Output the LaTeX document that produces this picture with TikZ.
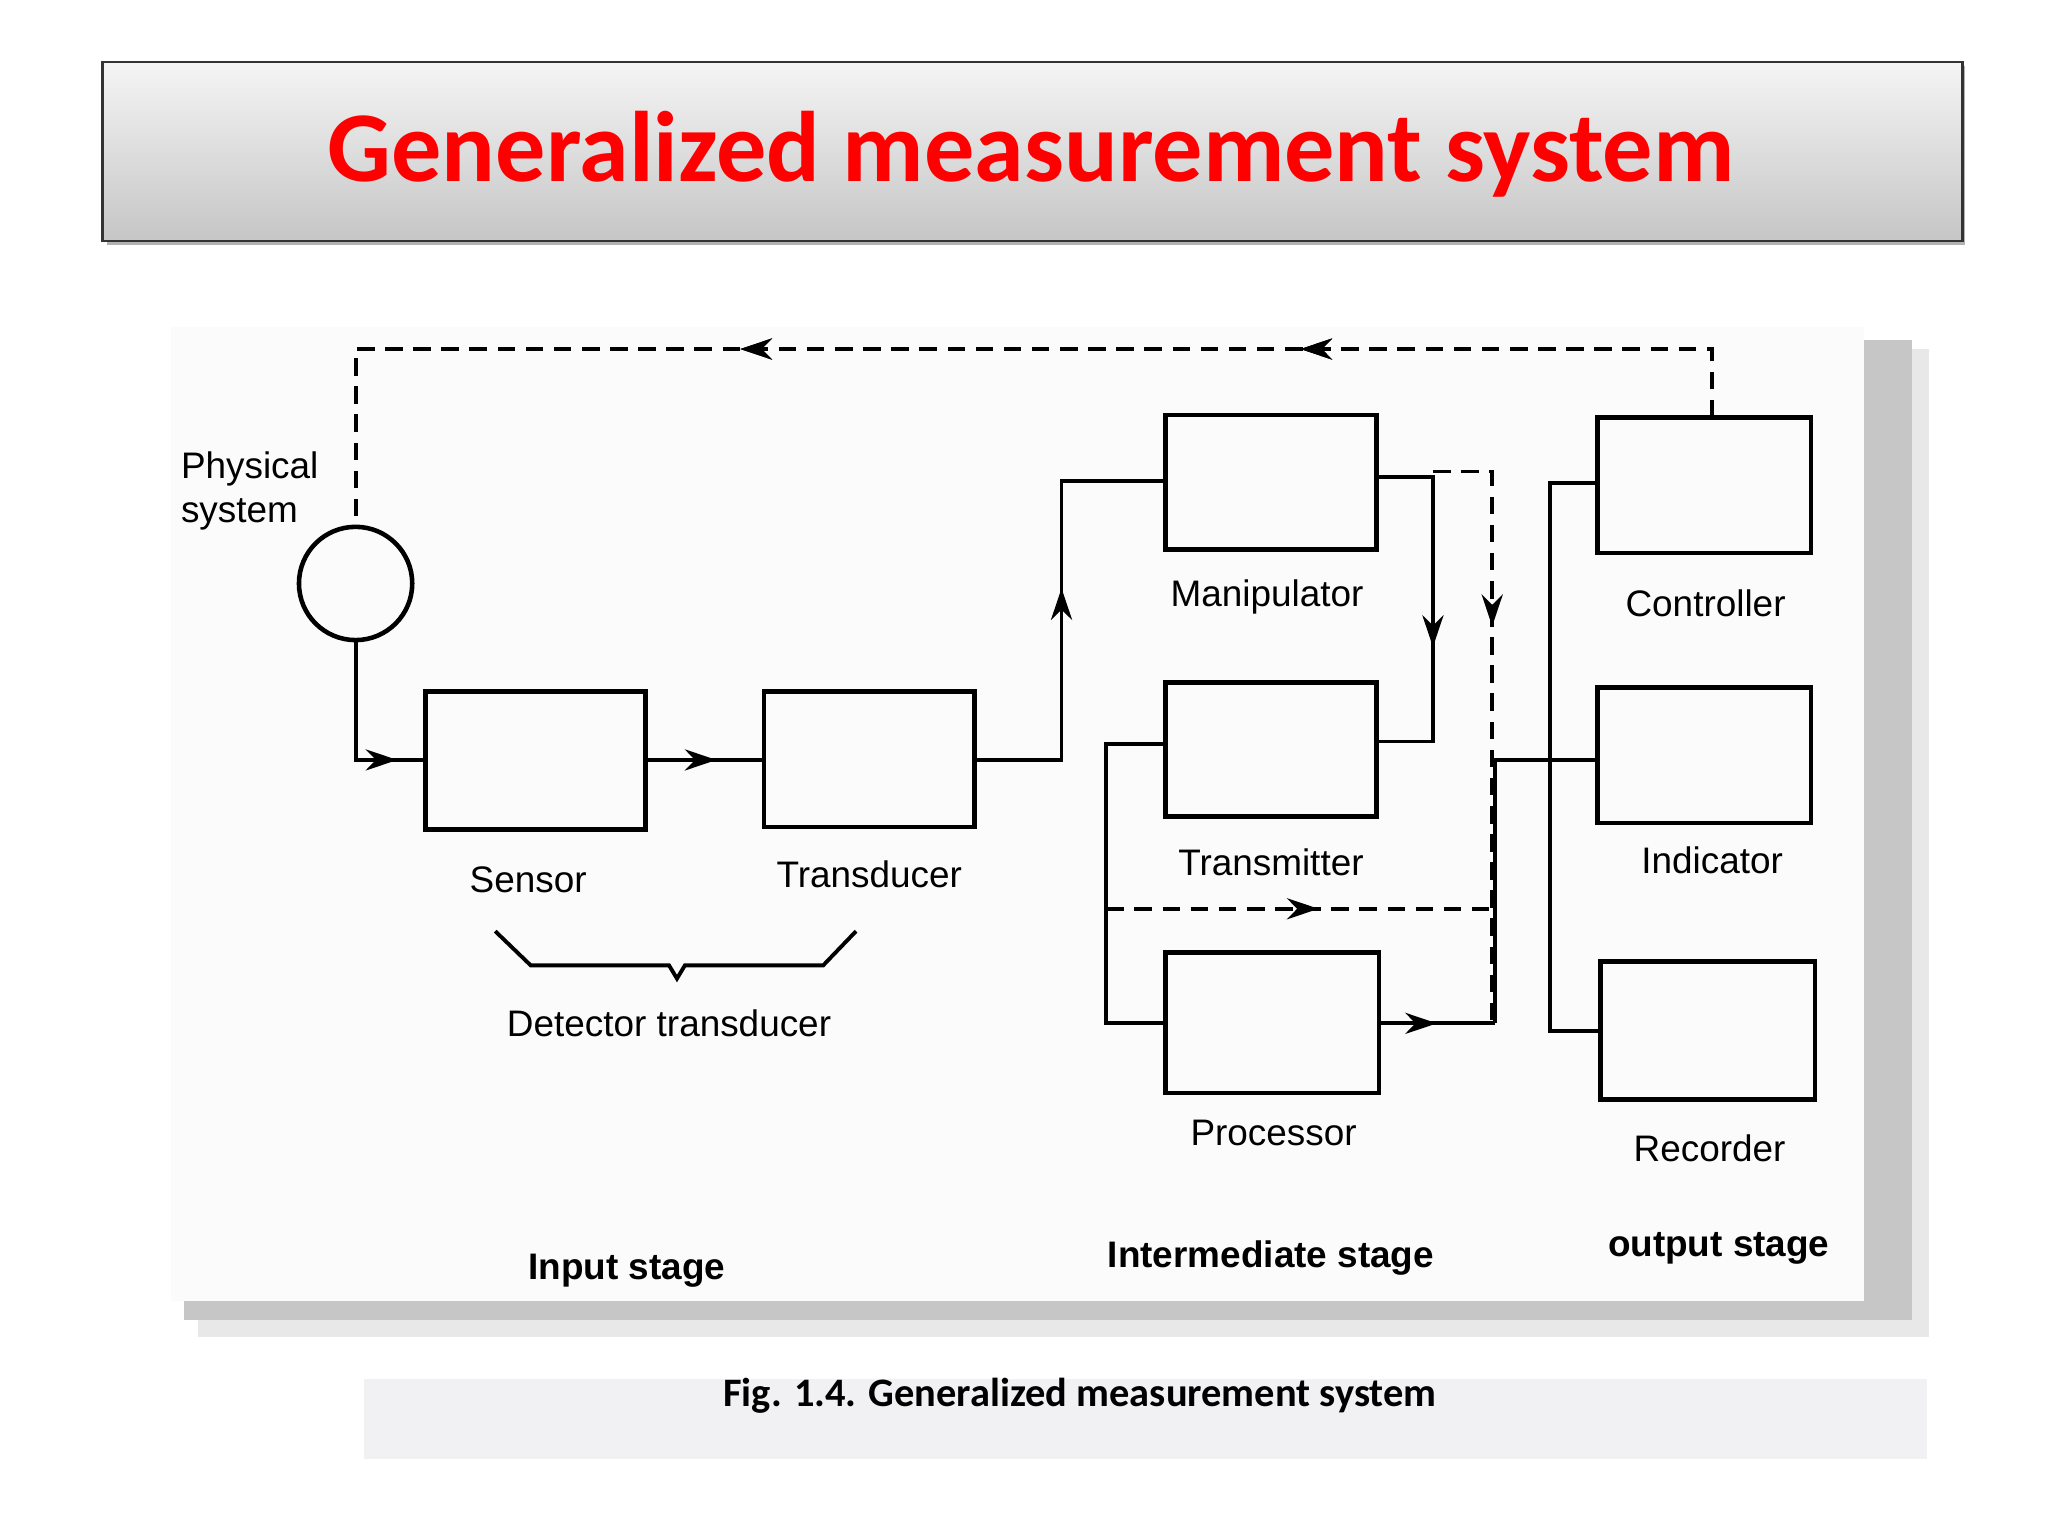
\documentclass[tikz,border=0pt]{standalone}
\usepackage{fontspec}
\setmainfont{Liberation Sans}
\newfontfamily\calfnt{Carlito}
\usetikzlibrary{decorations.markings,arrows.meta,shadows}
\begin{document}
\begin{tikzpicture}[x=0.01317cm,y=-0.01317cm,
 blk/.style={draw,line width=1.3pt,minimum width=0pt,inner sep=0pt},
 lbl/.style={font=\fontsize{10.5}{12.5}\selectfont},
 stg/.style={font=\bfseries\fontsize{10.5}{12.5}\selectfont},
 ln/.style={line width=1.1pt},
 dsh/.style={line width=1.1pt,dash pattern=on 5pt off 3pt},
 mid/.style={postaction={decorate},decoration={markings,mark=at position #1 with {\arrow{Stealth[length=9pt,width=6pt]}}}}]
\useasboundingbox (0,0) rectangle (1555,1166);
\fill[white] (0,0) rectangle (1555,1166);
% title
\fill[gray!60] (81,50) rectangle (1492,186);
\shade[top color=gray!8,bottom color=gray!45,draw=black!80,line width=0.8pt] (78,47) rectangle (1490,183);
\node[font=\calfnt\bfseries\fontsize{28.5}{33}\selectfont,text=red] (title) at (783,117) {Generalized measurement system};
% panel
\fill[gray!18] (150,265) rectangle (1465,1015);
\fill[gray!45] (140,258) rectangle (1452,1002);
\fill[gray!3] (130,248) rectangle (1415,988);
% caption
\fill[blue!8!gray!10] (276,1047) rectangle (1463,1108);
\node[font=\calfnt\bfseries\fontsize{11.5}{14}\selectfont] (cap) at (820,1060) {Fig. 1.4. Generalized measurement system};
% nodes
\node[draw,circle,line width=1.3pt,minimum size=86*0.01317cm] (ps) at (270,443) {};
\node[lbl,align=left,anchor=west] (pst) at (128,373) {Physical\\system};
\draw[blk] (323,525) rectangle (490,630);
\draw[blk] (580,525) rectangle (740,628);
\draw[blk] (885,315) rectangle (1045,417);
\draw[blk] (885,518) rectangle (1045,620);
\draw[blk] (885,723) rectangle (1047,830);
\draw[blk] (1213,317) rectangle (1375,420);
\draw[blk] (1213,522) rectangle (1375,625);
\draw[blk] (1215,730) rectangle (1378,835);
\node[lbl] (l1) at (401,668) {Sensor};
\node[lbl] (l2) at (660,664) {Transducer};
\node[lbl] (l3) at (962,453) {Manipulator};
\node[lbl] (l4) at (965,655) {Transmitter};
\node[lbl] (l5) at (967,860) {Processor};
\node[lbl] (l6) at (1295,458) {Controller};
\node[lbl] (l7) at (1300,653) {Indicator};
\node[lbl] (l8) at (1298,872) {Recorder};
\node[lbl] (l9) at (508,777) {Detector transducer};
\node[stg] (s1) at (476,965) {Input stage};
\node[stg] (s2) at (965,955) {Intermediate stage};
\node[stg] (s3) at (1305,948) {output stage};
% connectors
\draw[dsh,mid=0.30,mid=0.65] (1300,317) -- (1300,265) -- (270,265) -- (ps.north);
\draw[ln,mid=0.85] (ps.south) -- (270,577) -- (323,577);
\draw[ln,mid=0.6] (490,577) -- (580,577);
\draw[ln,mid=0.55] (740,577) -- (806,577) -- (806,365) -- (885,365);
\draw[ln,mid=0.6] (1045,362) -- (1088,362) -- (1088,563) -- (1045,563);
\draw[dsh,mid=0.35] (1088,358) -- (1133,358) -- (1133,777);
\draw[ln] (885,565) -- (840,565) -- (840,777) -- (885,777);
\draw[dsh,mid=0.55] (840,690) -- (1133,690);
\draw[ln,mid=0.5] (1047,777) -- (1135,777);
\draw[ln] (1135,777) -- (1135,577) -- (1213,577);
\draw[ln] (1213,367) -- (1177,367) -- (1177,783) -- (1215,783);
\draw[ln] (376,707) -- (403,733) -- (508,733) -- (514,743) -- (520,733) -- (625,733) -- (650,707);
\end{tikzpicture}
\end{document}
